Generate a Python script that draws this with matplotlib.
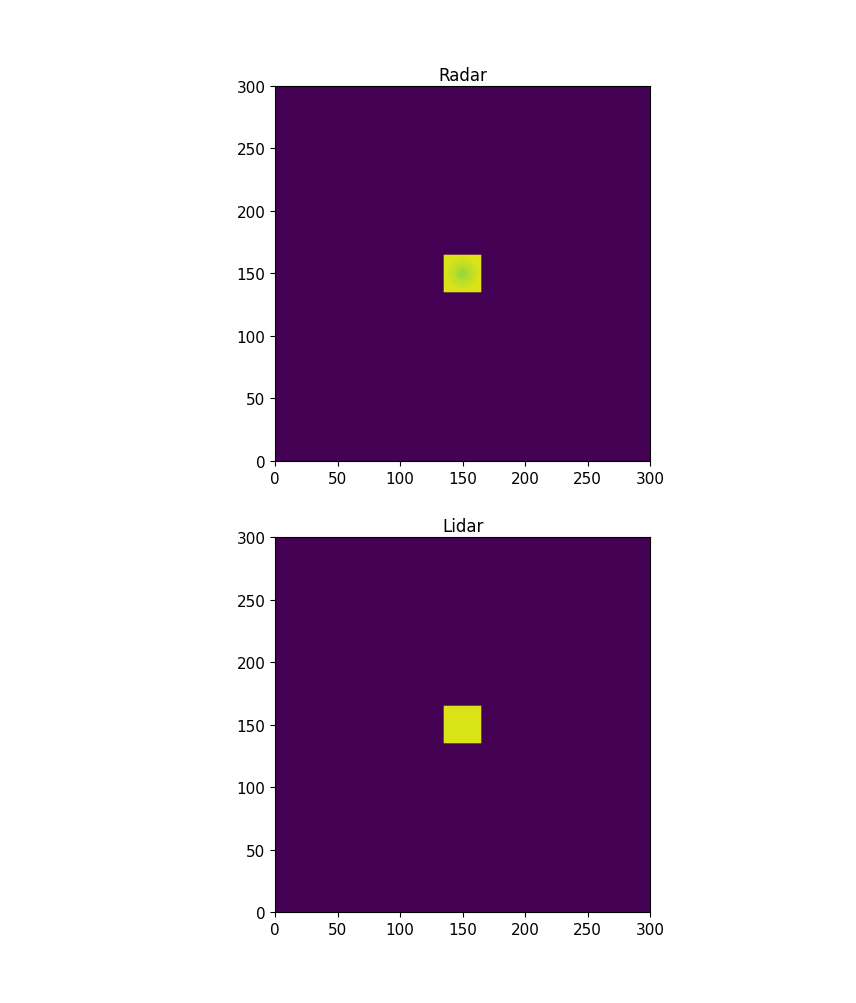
import numpy as np
import matplotlib.pyplot as plt

grid_size = 300
box_lo, box_hi = 135, 165
# radar intensity falls off slightly toward the centre of the target
radar_ring_levels = [0.90, 0.93, 0.96, 0.98, 1.0]
lidar_level = 1.0
titles = ["Radar", "Lidar"]

radar = np.zeros((grid_size, grid_size))
lidar = np.zeros((grid_size, grid_size))
yy, xx = np.mgrid[box_lo:box_hi, box_lo:box_hi]
c = (box_lo + box_hi - 1) / 2
d = np.hypot(xx - c, yy - c) / ((box_hi - box_lo) / 2)
idx = np.clip((d * len(radar_ring_levels)).astype(int), 0, len(radar_ring_levels) - 1)
radar[box_lo:box_hi, box_lo:box_hi] = np.array(radar_ring_levels)[idx]
lidar[box_lo:box_hi, box_lo:box_hi] = lidar_level

fig = plt.figure(figsize=(8.56, 10.04), dpi=100)
ax1 = fig.add_axes([0.321, 0.540, 0.439, 0.3735])
ax2 = fig.add_axes([0.321, 0.0906, 0.439, 0.3735])

for ax, data, title in zip([ax1, ax2], [radar, lidar], titles):
    ax.imshow(data, origin="lower", extent=[0, grid_size, 0, grid_size],
              cmap="viridis", vmin=0.0, vmax=1.06, interpolation="bilinear")
    ax.set_title(title, fontsize=12, pad=4)
    ax.set_xticks(range(0, 301, 50))
    ax.set_yticks(range(0, 301, 50))
    ax.tick_params(labelsize=11)

fig.savefig("out.png", dpi=100)
